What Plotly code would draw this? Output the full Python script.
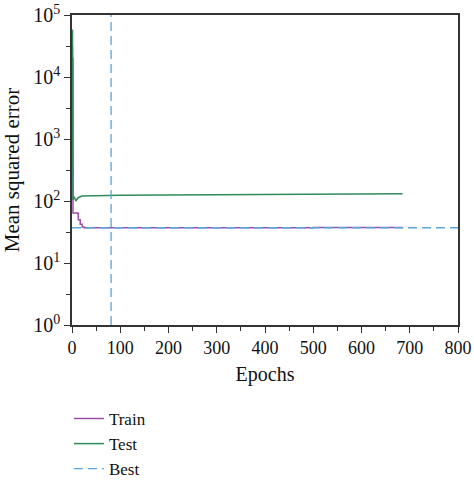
import plotly.graph_objects as go

train_epochs = [0, 1, 2, 3, 12, 13, 16, 17, 20, 21, 25, 100, 300, 500, 685]
train_mse = [31000, 20000, 64, 64, 62, 50, 50, 42, 42, 38, 37, 37, 37.2, 37.4, 37.6]

test_epochs = [0, 1, 2, 4, 6, 8, 12, 20, 100, 300, 500, 685]
test_mse = [57000, 57000, 105, 118, 110, 100, 112, 120, 124, 127, 129, 131]

best_epoch = 81
best_mse = 37
x_range = [0, 800]

y_tickvals = [1, 10, 100, 1000, 10000, 100000]
y_ticktext = ["10<sup>0</sup>", "10<sup>1</sup>", "10<sup>2</sup>", "10<sup>3</sup>", "10<sup>4</sup>", "10<sup>5</sup>"]
y_minor = [10 ** (n + 0.5) for n in range(5)]

font = "Liberation Serif, Times New Roman, serif"
dash = "9px,5px"

fig = go.Figure()
fig.add_trace(go.Scatter(x=train_epochs, y=train_mse, mode="lines", name="Train",
                         line=dict(color="#9b4fa8", width=1.5, shape="hv")))
fig.add_trace(go.Scatter(x=test_epochs, y=test_mse, mode="lines", name="Test",
                         line=dict(color="#2e8b5a", width=1.5)))
fig.add_trace(go.Scatter(x=x_range, y=[best_mse, best_mse], mode="lines", name="Best",
                         line=dict(color="#5aa5dc", width=1.3, dash=dash)))
fig.add_trace(go.Scatter(x=[best_epoch, best_epoch], y=[1, 100000], mode="lines",
                         showlegend=False, line=dict(color="#5aa5dc", width=1.3, dash=dash)))

fig.update_layout(
    width=474, height=482,
    margin=dict(l=72, r=16, t=15, b=157, autoexpand=False),
    paper_bgcolor="white", plot_bgcolor="white",
    font=dict(family=font, size=18, color="#111"),
    showlegend=True,
    legend=dict(x=-0.008, y=-0.245, xanchor="left", yanchor="top",
                font=dict(family=font, size=17), tracegroupgap=0,
                bgcolor="rgba(0,0,0,0)"),
    xaxis=dict(range=x_range, dtick=100, tick0=0, showgrid=False, zeroline=False,
               automargin=False, ticklabeloverflow="allow",
               showline=True, linecolor="#333", linewidth=1.5, mirror=True,
               ticks="outside", ticklen=6, tickcolor="#333",
               tickfont=dict(family=font, size=18),
               minor=dict(dtick=50, ticks="outside", ticklen=4, tickcolor="#333"),
               title=dict(text="Epochs", font=dict(family=font, size=20), standoff=10)),
    yaxis=dict(type="log", range=[0, 5], tickvals=y_tickvals, ticktext=y_ticktext,
               showgrid=False, zeroline=False, automargin=False, ticklabeloverflow="allow",
               showline=True, linecolor="#333", linewidth=1.5, mirror=True,
               ticks="outside", ticklen=6, tickcolor="#333",
               tickfont=dict(family=font, size=20),
               minor=dict(tickvals=y_minor, ticks="outside", ticklen=4, tickcolor="#333"),
               title=dict(text="Mean squared error", font=dict(family=font, size=21), standoff=8)),
)

fig.write_html("out.html", config={"displayModeBar": False},
               post_script="document.body.style.margin='0';")
